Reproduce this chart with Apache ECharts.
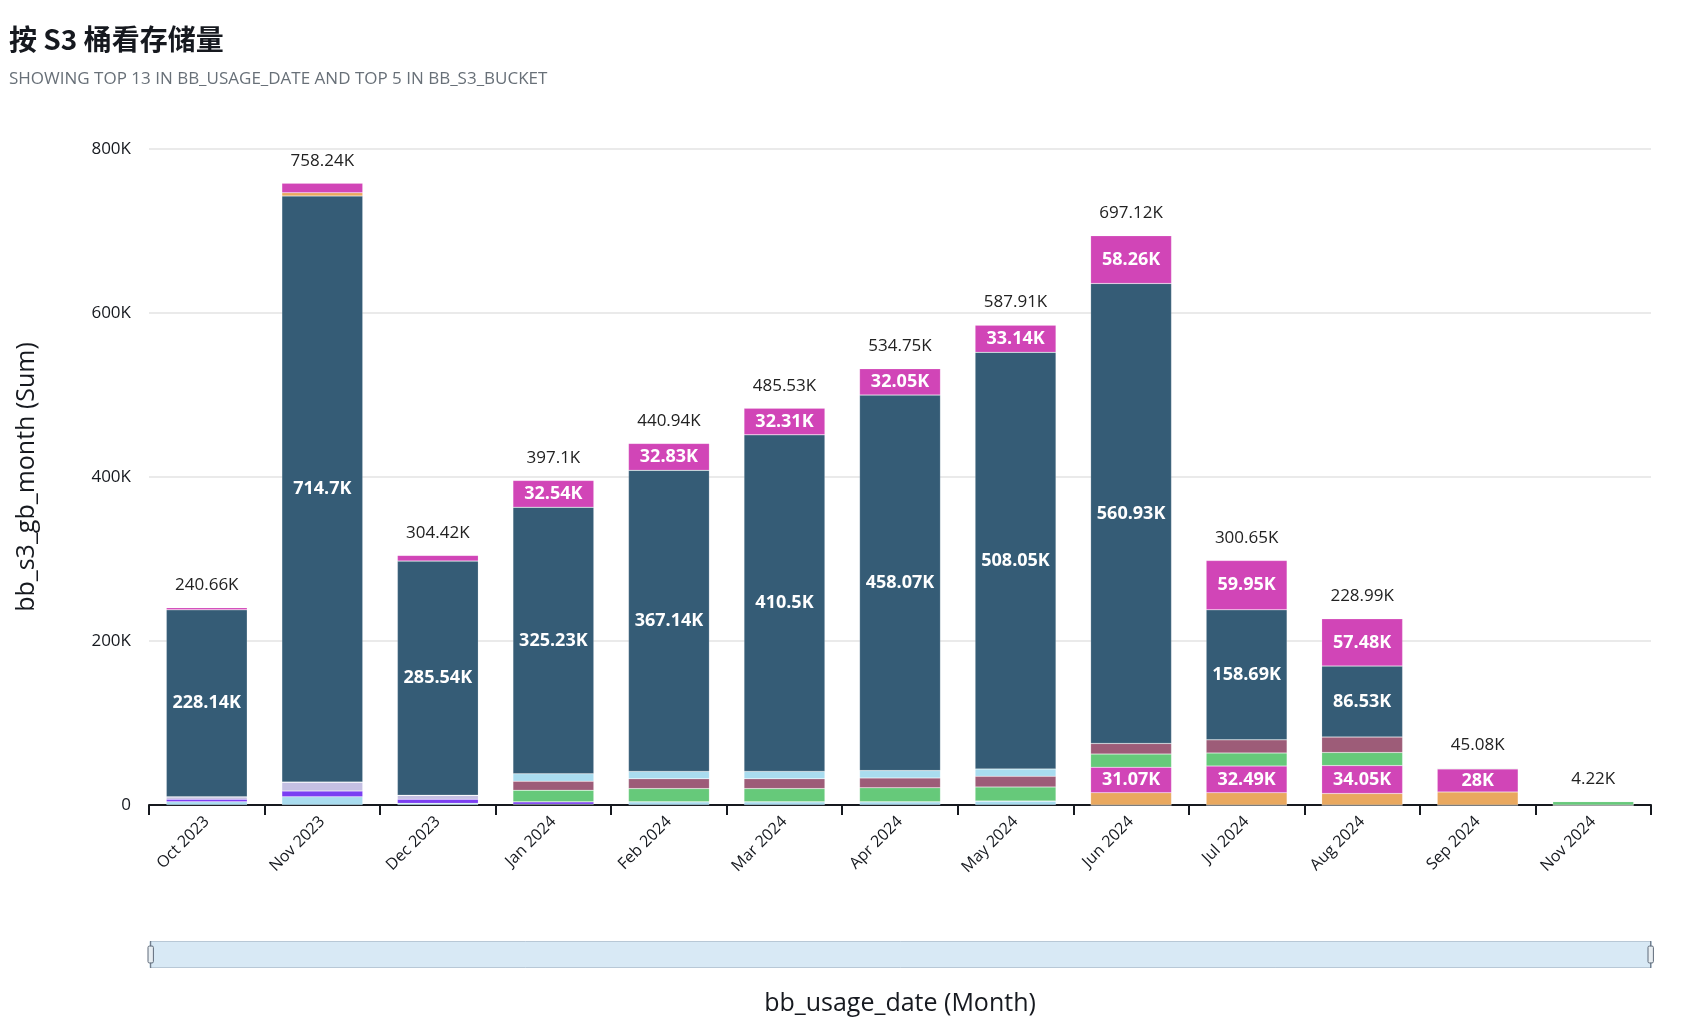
<!DOCTYPE html>
<html>
<head>
<meta charset="utf-8">
<script src="https://cdn.jsdelivr.net/npm/echarts@6/dist/echarts.min.js"></script>
<style>html,body{margin:0;padding:0;background:#fff}#main{width:1689px;height:1021px}</style>
</head>
<body>
<div id="main"></div>
<script>
const months = ['Oct 2023','Nov 2023','Dec 2023','Jan 2024','Feb 2024','Mar 2024','Apr 2024','May 2024','Jun 2024','Jul 2024','Aug 2024','Sep 2024','Nov 2024'];

// values in K, stacked bottom to top
const lightBlueLow = [4, 10, 2, 1, 4, 4, 4, 5, 0, 0, 0, 0, 0];
const purple       = [3, 7, 5, 3, 0, 0, 0, 0, 0, 0, 0, 0, 0];
const lavender     = [3, 11, 5, 0, 0, 0, 0, 0, 0, 0, 0, 0, 0];
const orange       = [0, 0, 0, 0, 0, 0, 0, 0, 15, 15, 14, 16, 0];
const magentaLow   = [0, 0, 0, 0, 0, 0, 0, 0, 31.07, 32.49, 34.05, 28, 0];
const green        = [0, 0, 0, 14, 16, 16, 17, 17, 16, 16, 16, 0.8, 4.22];
const maroon       = [0, 0, 0, 11, 12, 12, 12, 13, 13, 16, 19, 0, 0];
const lightBlue    = [0, 0, 0, 9, 9, 9, 9, 9, 0, 0, 0, 0.28, 0];
const darkBlue     = [228.14, 714.7, 285.54, 325.23, 367.14, 410.5, 458.07, 508.05, 560.93, 158.69, 86.53, 0, 0];
const gold         = [0, 4, 0, 0, 0, 0, 0, 0, 0, 0, 0, 0, 0];
const magentaTop   = [2.52, 11.54, 6.88, 32.54, 32.83, 32.31, 32.05, 33.14, 58.26, 59.95, 57.48, 0, 0];
const totals       = [240.66, 758.24, 304.42, 397.1, 440.94, 485.53, 534.75, 587.91, 697.12, 300.65, 228.99, 45.08, 4.22];

const fmt = v => (Math.round(v * 100) / 100) + 'K';
const layers = [
  ['lightBlueLow', lightBlueLow, '#a9dcef'],
  ['purple', purple, '#7b3ff2'],
  ['lavender', lavender, '#c5c0e3'],
  ['orange', orange, '#e9a85f'],
  ['magentaLow', magentaLow, '#d145b7'],
  ['green', green, '#66c97a'],
  ['maroon', maroon, '#9d5c78'],
  ['lightBlue', lightBlue, '#a9dcef'],
  ['darkBlue', darkBlue, '#355c76'],
  ['gold', gold, '#e9a85f'],
  ['magentaTop', magentaTop, '#d145b7']
];

const series = layers.map(([name, data, color]) => ({
  name, type: 'bar', stack: 'a', barWidth: '70%',
  data: data.map(v => v * 1000),
  itemStyle: { color, borderColor: 'rgba(255,255,255,0.35)', borderWidth: 0.5 },
  label: {
    show: true, position: 'inside', color: '#fff', fontSize: 18, fontWeight: 'bold',
    fontFamily: 'Open Sans',
    formatter: p => p.value >= 25000 ? fmt(p.value / 1000) : ''
  }
}));
series.push({
  name: 'total', type: 'bar', stack: 'a', data: totals.map(() => 0),
  itemStyle: { color: 'transparent' },
  label: {
    show: true, position: 'top', color: '#222', fontSize: 17, fontFamily: 'Open Sans', distance: 14,
    formatter: p => fmt(totals[p.dataIndex])
  }
});

const chart = echarts.init(document.getElementById('main'));
chart.setOption({
  animation: false,
  title: {
    text: '按 S3 桶看存储量',
    subtext: 'SHOWING TOP 13 IN BB_USAGE_DATE AND TOP 5 IN BB_S3_BUCKET',
    left: 4, top: 20,
    textStyle: { fontSize: 28, fontWeight: 'bold', color: '#16191f', fontFamily: 'Noto Sans CJK SC' },
    subtextStyle: { fontSize: 17, color: '#687078', fontFamily: 'Open Sans' },
    itemGap: 18
  },
  grid: { left: 149, right: 38, top: 149, bottom: 209 },
  xAxis: {
    type: 'category', data: months,
    name: 'bb_usage_date (Month)', nameLocation: 'middle', nameGap: 186,
    nameTextStyle: { fontSize: 25, color: '#16191f', fontFamily: 'Open Sans' },
    axisLine: { lineStyle: { color: '#16191f', width: 2 } },
    axisTick: { show: true, length: 10, lineStyle: { color: '#16191f', width: 2 } },
    axisLabel: { rotate: 45, fontSize: 16, color: '#16191f', fontFamily: 'Open Sans', margin: 14 }
  },
  yAxis: {
    type: 'value', min: 0, max: 800000, interval: 200000,
    name: 'bb_s3_gb_month (Sum)', nameLocation: 'middle', nameGap: 110,
    nameTextStyle: { fontSize: 25, color: '#16191f', fontFamily: 'Open Sans' },
    axisLabel: { fontSize: 17, color: '#16191f', fontFamily: 'Open Sans', margin: 18,
      formatter: v => v === 0 ? '0' : (v / 1000) + 'K' },
    splitLine: { lineStyle: { color: '#e3e3e3', width: 1.5 } }
  },
  dataZoom: [{
    type: 'slider', xAxisIndex: 0, start: 0, end: 100,
    left: 149, right: 38, bottom: 53, height: 27,
    showDetail: false, showDataShadow: false,
    backgroundColor: '#d8e9f5', fillerColor: 'rgba(216,233,245,0.6)',
    borderColor: '#b8c8d6',
    handleStyle: { color: '#e8eef2', borderColor: '#5f6b7a' },
    moveHandleSize: 0
  }],
  series
});
</script>
</body>
</html>
